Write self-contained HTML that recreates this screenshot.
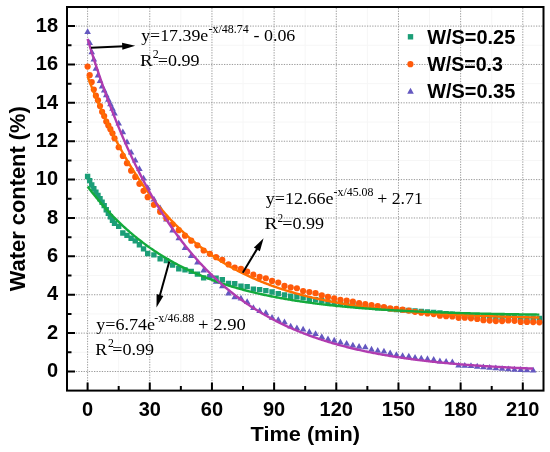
<!DOCTYPE html>
<html><head><meta charset="utf-8"><style>html,body{margin:0;padding:0;background:#fff;}svg{display:block;}</style></head>
<body><svg width="550" height="452" viewBox="0 0 550 452">
<rect width="550" height="452" fill="#fff"/>
<path d="M118.69 7V390.6M180.86 7V390.6M243.03 7V390.6M305.20 7V390.6M367.37 7V390.6M429.55 7V390.6M491.72 7V390.6M67 352.31H543.5M67 313.93H543.5M67 275.55H543.5M67 237.17H543.5M67 198.79H543.5M67 160.41H543.5M67 122.03H543.5M67 83.65H543.5M67 45.27H543.5" stroke="#f6f6f6" stroke-width="1" fill="none"/>
<path d="M87.60 8V389.6M149.77 8V389.6M211.94 8V389.6M274.12 8V389.6M336.29 8V389.6M398.46 8V389.6M460.63 8V389.6M522.80 8V389.6M68 371.50H542.5M68 333.12H542.5M68 294.74H542.5M68 256.36H542.5M68 217.98H542.5M68 179.60H542.5M68 141.22H542.5M68 102.84H542.5M68 64.46H542.5M68 26.08H542.5" stroke="#9a9a9a" stroke-width="1" stroke-dasharray="1.3 1.3" fill="none"/>
<path d="M84.90 173.83h5.4v5.4h-5.4zM86.97 177.90h5.4v5.4h-5.4zM89.04 182.30h5.4v5.4h-5.4zM91.12 185.88h5.4v5.4h-5.4zM93.19 189.40h5.4v5.4h-5.4zM95.26 192.77h5.4v5.4h-5.4zM97.33 196.08h5.4v5.4h-5.4zM99.41 199.54h5.4v5.4h-5.4zM101.48 202.95h5.4v5.4h-5.4zM103.55 206.98h5.4v5.4h-5.4zM105.62 210.57h5.4v5.4h-5.4zM107.70 214.10h5.4v5.4h-5.4zM109.77 217.49h5.4v5.4h-5.4zM111.84 220.70h5.4v5.4h-5.4zM115.99 223.64h5.4v5.4h-5.4zM120.13 230.25h5.4v5.4h-5.4zM124.28 232.66h5.4v5.4h-5.4zM128.42 235.50h5.4v5.4h-5.4zM132.57 238.18h5.4v5.4h-5.4zM136.71 242.07h5.4v5.4h-5.4zM140.85 246.19h5.4v5.4h-5.4zM145.00 250.77h5.4v5.4h-5.4zM151.22 252.21h5.4v5.4h-5.4zM157.43 256.07h5.4v5.4h-5.4zM163.65 257.95h5.4v5.4h-5.4zM169.87 262.47h5.4v5.4h-5.4zM176.09 266.01h5.4v5.4h-5.4zM182.30 267.22h5.4v5.4h-5.4zM188.52 268.63h5.4v5.4h-5.4zM194.74 271.39h5.4v5.4h-5.4zM200.95 275.13h5.4v5.4h-5.4zM207.17 274.10h5.4v5.4h-5.4zM213.39 275.61h5.4v5.4h-5.4zM219.61 276.98h5.4v5.4h-5.4zM225.82 280.71h5.4v5.4h-5.4zM232.04 281.06h5.4v5.4h-5.4zM238.26 283.59h5.4v5.4h-5.4zM244.47 283.90h5.4v5.4h-5.4zM250.69 286.41h5.4v5.4h-5.4zM256.91 286.91h5.4v5.4h-5.4zM263.13 287.89h5.4v5.4h-5.4zM269.34 289.36h5.4v5.4h-5.4zM275.56 290.95h5.4v5.4h-5.4zM281.78 292.26h5.4v5.4h-5.4zM288.00 293.51h5.4v5.4h-5.4zM294.21 294.12h5.4v5.4h-5.4zM300.43 295.05h5.4v5.4h-5.4zM306.65 296.50h5.4v5.4h-5.4zM312.86 297.12h5.4v5.4h-5.4zM319.08 298.08h5.4v5.4h-5.4zM325.30 299.38h5.4v5.4h-5.4zM331.52 300.44h5.4v5.4h-5.4zM337.73 301.12h5.4v5.4h-5.4zM343.95 301.77h5.4v5.4h-5.4zM350.17 302.38h5.4v5.4h-5.4zM356.38 303.00h5.4v5.4h-5.4zM362.60 303.70h5.4v5.4h-5.4zM368.82 304.36h5.4v5.4h-5.4zM375.04 304.99h5.4v5.4h-5.4zM381.25 305.60h5.4v5.4h-5.4zM387.47 306.18h5.4v5.4h-5.4zM393.69 306.73h5.4v5.4h-5.4zM399.90 307.26h5.4v5.4h-5.4zM406.12 307.77h5.4v5.4h-5.4zM412.34 308.25h5.4v5.4h-5.4zM418.56 308.72h5.4v5.4h-5.4zM424.77 309.17h5.4v5.4h-5.4zM430.99 309.73h5.4v5.4h-5.4zM437.21 310.35h5.4v5.4h-5.4zM443.43 310.94h5.4v5.4h-5.4zM449.64 311.53h5.4v5.4h-5.4zM455.86 312.10h5.4v5.4h-5.4zM462.08 312.58h5.4v5.4h-5.4zM468.29 313.02h5.4v5.4h-5.4zM474.51 313.44h5.4v5.4h-5.4zM480.73 313.85h5.4v5.4h-5.4zM486.95 314.26h5.4v5.4h-5.4zM493.16 314.53h5.4v5.4h-5.4zM499.38 314.72h5.4v5.4h-5.4zM505.60 314.91h5.4v5.4h-5.4zM511.81 315.09h5.4v5.4h-5.4zM518.03 315.26h5.4v5.4h-5.4zM524.25 315.43h5.4v5.4h-5.4zM530.47 315.59h5.4v5.4h-5.4zM536.68 315.75h5.4v5.4h-5.4z" fill="#1b9e77"/>
<path d="M87.60 28.16L90.90 33.96L84.30 33.96zM89.67 39.16L92.97 44.96L86.37 44.96zM91.74 48.49L95.04 54.29L88.44 54.29zM93.82 55.76L97.12 61.56L90.52 61.56zM95.89 65.01L99.19 70.81L92.59 70.81zM97.96 71.64L101.26 77.44L94.66 77.44zM100.03 77.18L103.33 82.98L96.73 82.98zM102.11 82.59L105.41 88.39L98.81 88.39zM104.18 86.74L107.48 92.54L100.88 92.54zM106.25 91.34L109.55 97.14L102.95 97.14zM108.32 96.01L111.62 101.81L105.02 101.81zM110.40 100.57L113.70 106.37L107.10 106.37zM112.47 105.02L115.77 110.82L109.17 110.82zM114.54 109.74L117.84 115.54L111.24 115.54zM118.69 119.63L121.99 125.43L115.39 125.43zM122.83 128.54L126.13 134.34L119.53 134.34zM126.98 138.39L130.28 144.19L123.68 144.19zM131.12 148.81L134.42 154.61L127.82 154.61zM135.27 156.77L138.57 162.57L131.97 162.57zM139.41 165.14L142.71 170.94L136.11 170.94zM143.55 174.70L146.85 180.50L140.25 180.50zM147.70 184.14L151.00 189.94L144.40 189.94zM153.92 195.71L157.22 201.51L150.62 201.51zM160.13 204.50L163.43 210.30L156.83 210.30zM166.35 215.75L169.65 221.55L163.05 221.55zM172.57 226.61L175.87 232.41L169.27 232.41zM178.79 234.44L182.09 240.24L175.49 240.24zM185.00 244.24L188.30 250.04L181.70 250.04zM191.22 252.22L194.52 258.02L187.92 258.02zM197.44 258.79L200.74 264.59L194.14 264.59zM203.65 266.65L206.95 272.45L200.35 272.45zM209.87 272.01L213.17 277.81L206.57 277.81zM216.09 277.94L219.39 283.74L212.79 283.74zM222.31 282.38L225.61 288.18L219.01 288.18zM228.52 289.74L231.82 295.54L225.22 295.54zM234.74 293.33L238.04 299.13L231.44 299.13zM240.96 294.71L244.26 300.51L237.66 300.51zM247.17 298.31L250.47 304.11L243.87 304.11zM253.39 304.14L256.69 309.94L250.09 309.94zM259.61 307.23L262.91 313.03L256.31 313.03zM265.83 309.32L269.13 315.12L262.53 315.12zM272.04 313.89L275.34 319.69L268.74 319.69zM278.26 316.13L281.56 321.93L274.96 321.93zM284.48 318.38L287.78 324.18L281.18 324.18zM290.70 322.76L294.00 328.56L287.40 328.56zM296.91 324.46L300.21 330.26L293.61 330.26zM303.13 325.82L306.43 331.62L299.83 331.62zM309.35 328.37L312.65 334.17L306.05 334.17zM315.56 330.20L318.86 336.00L312.26 336.00zM321.78 333.25L325.08 339.05L318.48 339.05zM328.00 335.40L331.30 341.20L324.70 341.20zM334.22 336.86L337.52 342.66L330.92 342.66zM340.43 338.60L343.73 344.40L337.13 344.40zM346.65 340.03L349.95 345.83L343.35 345.83zM352.87 341.76L356.17 347.56L349.57 347.56zM359.08 343.01L362.38 348.81L355.78 348.81zM365.30 343.40L368.60 349.20L362.00 349.20zM371.52 345.83L374.82 351.63L368.22 351.63zM377.74 347.03L381.04 352.83L374.44 352.83zM383.95 347.77L387.25 353.57L380.65 353.57zM390.17 349.41L393.47 355.21L386.87 355.21zM396.39 351.17L399.69 356.97L393.09 356.97zM402.60 352.30L405.90 358.10L399.30 358.10zM408.82 352.80L412.12 358.60L405.52 358.60zM415.04 354.01L418.34 359.81L411.74 359.81zM421.26 354.79L424.56 360.59L417.96 360.59zM427.47 355.33L430.77 361.13L424.17 361.13zM433.69 356.02L436.99 361.82L430.39 361.82zM439.91 357.62L443.21 363.42L436.61 363.42zM446.13 358.04L449.43 363.84L442.83 363.84zM452.34 358.42L455.64 364.22L449.04 364.22zM458.56 361.65L461.86 367.45L455.26 367.45zM464.78 361.96L468.08 367.76L461.48 367.76zM470.99 362.24L474.29 368.04L467.69 368.04zM477.21 362.86L480.51 368.66L473.91 368.66zM483.43 363.46L486.73 369.26L480.13 369.26zM489.65 364.03L492.95 369.83L486.35 369.83zM495.86 364.53L499.16 370.33L492.56 370.33zM502.08 365.00L505.38 370.80L498.78 370.80zM508.30 365.44L511.60 371.24L505.00 371.24zM514.51 365.83L517.81 371.63L511.21 371.63zM520.73 366.12L524.03 371.92L517.43 371.92zM526.95 366.39L530.25 372.19L523.65 372.19zM533.17 366.65L536.47 372.45L529.87 372.45z" fill="#6458c0"/>
<g fill="#ff5a0a"><circle cx="87.60" cy="66.57" r="3.1"/><circle cx="89.67" cy="75.16" r="3.1"/><circle cx="91.74" cy="82.10" r="3.1"/><circle cx="93.82" cy="89.50" r="3.1"/><circle cx="95.89" cy="95.64" r="3.1"/><circle cx="97.96" cy="100.33" r="3.1"/><circle cx="100.03" cy="106.06" r="3.1"/><circle cx="102.11" cy="111.87" r="3.1"/><circle cx="104.18" cy="116.05" r="3.1"/><circle cx="106.25" cy="121.48" r="3.1"/><circle cx="108.32" cy="125.46" r="3.1"/><circle cx="110.40" cy="129.15" r="3.1"/><circle cx="112.47" cy="133.33" r="3.1"/><circle cx="114.54" cy="138.37" r="3.1"/><circle cx="118.69" cy="147.23" r="3.1"/><circle cx="122.83" cy="155.94" r="3.1"/><circle cx="126.98" cy="163.17" r="3.1"/><circle cx="131.12" cy="170.67" r="3.1"/><circle cx="135.27" cy="176.90" r="3.1"/><circle cx="139.41" cy="183.80" r="3.1"/><circle cx="143.55" cy="190.82" r="3.1"/><circle cx="147.70" cy="197.19" r="3.1"/><circle cx="153.92" cy="204.83" r="3.1"/><circle cx="160.13" cy="211.80" r="3.1"/><circle cx="166.35" cy="218.28" r="3.1"/><circle cx="172.57" cy="224.38" r="3.1"/><circle cx="178.79" cy="230.22" r="3.1"/><circle cx="185.00" cy="235.65" r="3.1"/><circle cx="191.22" cy="240.70" r="3.1"/><circle cx="197.44" cy="245.29" r="3.1"/><circle cx="203.65" cy="250.50" r="3.1"/><circle cx="209.87" cy="253.86" r="3.1"/><circle cx="216.09" cy="257.13" r="3.1"/><circle cx="222.31" cy="259.93" r="3.1"/><circle cx="228.52" cy="264.40" r="3.1"/><circle cx="234.74" cy="267.48" r="3.1"/><circle cx="240.96" cy="268.79" r="3.1"/><circle cx="247.17" cy="271.63" r="3.1"/><circle cx="253.39" cy="274.66" r="3.1"/><circle cx="259.61" cy="276.93" r="3.1"/><circle cx="265.83" cy="278.26" r="3.1"/><circle cx="272.04" cy="280.96" r="3.1"/><circle cx="278.26" cy="282.56" r="3.1"/><circle cx="284.48" cy="285.93" r="3.1"/><circle cx="290.70" cy="287.45" r="3.1"/><circle cx="296.91" cy="288.27" r="3.1"/><circle cx="303.13" cy="291.09" r="3.1"/><circle cx="309.35" cy="292.07" r="3.1"/><circle cx="315.56" cy="293.14" r="3.1"/><circle cx="321.78" cy="295.46" r="3.1"/><circle cx="328.00" cy="296.93" r="3.1"/><circle cx="334.22" cy="298.32" r="3.1"/><circle cx="340.43" cy="299.82" r="3.1"/><circle cx="346.65" cy="300.48" r="3.1"/><circle cx="352.87" cy="301.65" r="3.1"/><circle cx="359.08" cy="303.14" r="3.1"/><circle cx="365.30" cy="303.99" r="3.1"/><circle cx="371.52" cy="305.18" r="3.1"/><circle cx="377.74" cy="306.12" r="3.1"/><circle cx="383.95" cy="307.01" r="3.1"/><circle cx="390.17" cy="308.43" r="3.1"/><circle cx="396.39" cy="308.85" r="3.1"/><circle cx="402.60" cy="309.62" r="3.1"/><circle cx="408.82" cy="310.54" r="3.1"/><circle cx="415.04" cy="311.81" r="3.1"/><circle cx="421.26" cy="312.66" r="3.1"/><circle cx="427.47" cy="313.49" r="3.1"/><circle cx="433.69" cy="314.09" r="3.1"/><circle cx="439.91" cy="315.63" r="3.1"/><circle cx="446.13" cy="316.18" r="3.1"/><circle cx="452.34" cy="316.52" r="3.1"/><circle cx="458.56" cy="317.79" r="3.1"/><circle cx="464.78" cy="317.70" r="3.1"/><circle cx="470.99" cy="318.36" r="3.1"/><circle cx="477.21" cy="319.00" r="3.1"/><circle cx="483.43" cy="320.21" r="3.1"/><circle cx="489.65" cy="320.62" r="3.1"/><circle cx="495.86" cy="321.03" r="3.1"/><circle cx="502.08" cy="321.03" r="3.1"/><circle cx="508.30" cy="320.45" r="3.1"/><circle cx="514.51" cy="320.82" r="3.1"/><circle cx="520.73" cy="321.94" r="3.1"/><circle cx="526.95" cy="321.90" r="3.1"/><circle cx="533.17" cy="322.04" r="3.1"/><circle cx="539.38" cy="322.36" r="3.1"/></g>
<path d="M87.60 76.55 L88.64 79.23 L89.67 81.88 L90.71 84.50 L91.74 87.09 L92.78 89.66 L93.82 92.19 L94.85 94.70 L95.89 97.18 L96.93 99.63 L97.96 102.06 L99.00 104.45 L100.03 106.83 L101.07 109.17 L102.11 111.49 L103.14 113.79 L104.18 116.05 L105.22 118.30 L106.25 120.52 L107.29 122.71 L108.32 124.88 L109.36 127.03 L110.40 129.15 L111.43 131.25 L112.47 133.33 L113.50 135.38 L114.54 137.41 L115.58 139.42 L116.61 141.41 L117.65 143.37 L118.69 145.31 L119.72 147.24 L120.76 149.14 L121.79 151.01 L122.83 152.87 L123.87 154.71 L124.90 156.53 L125.94 158.33 L126.98 160.10 L128.01 161.86 L129.05 163.60 L130.08 165.32 L131.12 167.02 L132.16 168.70 L133.19 170.37 L134.23 172.01 L135.27 173.64 L136.30 175.25 L137.34 176.84 L138.37 178.41 L139.41 179.97 L140.45 181.51 L141.48 183.03 L142.52 184.53 L143.55 186.02 L144.59 187.49 L145.63 188.95 L146.66 190.39 L147.70 191.81 L148.74 193.22 L149.77 194.62 L150.81 195.99 L151.84 197.35 L152.88 198.70 L153.92 200.03 L154.95 201.35 L155.99 202.66 L157.03 203.94 L158.06 205.22 L159.10 206.48 L160.13 207.73 L161.17 208.96 L162.21 210.18 L163.24 211.38 L164.28 212.58 L165.31 213.76 L166.35 214.92 L167.39 216.07 L168.42 217.22 L169.46 218.34 L170.50 219.46 L171.53 220.56 L172.57 221.65 L173.60 222.73 L174.64 223.80 L175.68 224.86 L176.71 225.90 L177.75 226.93 L178.79 227.95 L179.82 228.96 L180.86 229.96 L181.89 230.95 L182.93 231.93 L183.97 232.89 L185.00 233.85 L186.04 234.79 L187.08 235.73 L188.11 236.65 L189.15 237.56 L190.18 238.47 L191.22 239.36 L192.26 240.25 L193.29 241.12 L194.33 241.98 L195.36 242.84 L196.40 243.68 L197.44 244.52 L198.47 245.35 L199.51 246.17 L200.55 246.97 L201.58 247.77 L202.62 248.57 L203.65 249.35 L204.69 250.12 L205.73 250.89 L206.76 251.64 L207.80 252.39 L208.84 253.13 L209.87 253.86 L210.91 254.59 L211.94 255.30 L212.98 256.01 L214.02 256.71 L215.05 257.40 L216.09 258.09 L217.12 258.77 L218.16 259.44 L219.20 260.10 L220.23 260.75 L221.27 261.40 L222.31 262.04 L223.34 262.68 L224.38 263.30 L225.41 263.92 L226.45 264.54 L227.49 265.14 L228.52 265.74 L229.56 266.33 L230.60 266.92 L231.63 267.50 L232.67 268.07 L233.70 268.64 L234.74 269.20 L235.78 269.76 L236.81 270.31 L237.85 270.85 L238.89 271.38 L239.92 271.92 L240.96 272.44 L241.99 272.96 L243.03 273.47 L244.07 273.98 L245.10 274.48 L246.14 274.98 L247.17 275.47 L248.21 275.96 L249.25 276.44 L250.28 276.91 L251.32 277.38 L252.36 277.84 L253.39 278.30 L254.43 278.76 L255.46 279.21 L256.50 279.65 L257.54 280.09 L258.57 280.53 L259.61 280.96 L260.65 281.38 L261.68 281.80 L262.72 282.22 L263.75 282.63 L264.79 283.04 L265.83 283.44 L266.86 283.84 L267.90 284.23 L268.94 284.62 L269.97 285.00 L271.01 285.38 L272.04 285.76 L273.08 286.13 L274.12 286.50 L275.15 286.86 L276.19 287.22 L277.22 287.58 L278.26 287.93 L279.30 288.28 L280.33 288.62 L281.37 288.96 L282.41 289.30 L283.44 289.63 L284.48 289.96 L285.51 290.29 L286.55 290.61 L287.59 290.93 L288.62 291.24 L289.66 291.56 L290.70 291.86 L291.73 292.17 L292.77 292.47 L293.80 292.77 L294.84 293.06 L295.88 293.36 L296.91 293.64 L297.95 293.93 L298.98 294.21 L300.02 294.49 L301.06 294.77 L302.09 295.04 L303.13 295.31 L304.17 295.57 L305.20 295.84 L306.24 296.10 L307.27 296.36 L308.31 296.61 L309.35 296.87 L310.38 297.11 L311.42 297.36 L312.46 297.61 L313.49 297.85 L314.53 298.09 L315.56 298.32 L316.60 298.56 L317.64 298.79 L318.67 299.01 L319.71 299.24 L320.75 299.46 L321.78 299.69 L322.82 299.90 L323.85 300.12 L324.89 300.33 L325.93 300.54 L326.96 300.75 L328.00 300.96 L329.03 301.17 L330.07 301.37 L331.11 301.57 L332.14 301.76 L333.18 301.96 L334.22 302.15 L335.25 302.35 L336.29 302.53 L337.32 302.72 L338.36 302.91 L339.40 303.09 L340.43 303.27 L341.47 303.45 L342.51 303.63 L343.54 303.80 L344.58 303.97 L345.61 304.15 L346.65 304.31 L347.69 304.48 L348.72 304.65 L349.76 304.81 L350.79 304.97 L351.83 305.13 L352.87 305.29 L353.90 305.45 L354.94 305.60 L355.98 305.76 L357.01 305.91 L358.05 306.06 L359.08 306.21 L360.12 306.35 L361.16 306.50 L362.19 306.64 L363.23 306.78 L364.27 306.92 L365.30 307.06 L366.34 307.20 L367.37 307.33 L368.41 307.47 L369.45 307.60 L370.48 307.73 L371.52 307.86 L372.55 307.99 L373.59 308.12 L374.63 308.24 L375.66 308.37 L376.70 308.49 L377.74 308.61 L378.77 308.73 L379.81 308.85 L380.84 308.97 L381.88 309.08 L382.92 309.20 L383.95 309.31 L384.99 309.42 L386.03 309.54 L387.06 309.65 L388.10 309.75 L389.13 309.86 L390.17 309.97 L391.21 310.07 L392.24 310.18 L393.28 310.28 L394.32 310.38 L395.35 310.48 L396.39 310.58 L397.42 310.68 L398.46 310.78 L399.50 310.87 L400.53 310.97 L401.57 311.06 L402.60 311.16 L403.64 311.25 L404.68 311.34 L405.71 311.43 L406.75 311.52 L407.79 311.61 L408.82 311.69 L409.86 311.78 L410.89 311.86 L411.93 311.95 L412.97 312.03 L414.00 312.11 L415.04 312.19 L416.08 312.28 L417.11 312.35 L418.15 312.43 L419.18 312.51 L420.22 312.59 L421.26 312.66 L422.29 312.74 L423.33 312.81 L424.37 312.89 L425.40 312.96 L426.44 313.03 L427.47 313.10 L428.51 313.17 L429.55 313.24 L430.58 313.31 L431.62 313.38 L432.65 313.45 L433.69 313.52 L434.73 313.58 L435.76 313.65 L436.80 313.71 L437.84 313.78 L438.87 313.84 L439.91 313.90 L440.94 313.96 L441.98 314.02 L443.02 314.08 L444.05 314.14 L445.09 314.20 L446.13 314.26 L447.16 314.32 L448.20 314.38 L449.23 314.43 L450.27 314.49 L451.31 314.54 L452.34 314.60 L453.38 314.65 L454.41 314.71 L455.45 314.76 L456.49 314.81 L457.52 314.86 L458.56 314.91 L459.60 314.96 L460.63 315.01 L461.67 315.06 L462.70 315.11 L463.74 315.16 L464.78 315.21 L465.81 315.26 L466.85 315.30 L467.89 315.35 L468.92 315.39 L469.96 315.44 L470.99 315.48 L472.03 315.53 L473.07 315.57 L474.10 315.62 L475.14 315.66 L476.17 315.70 L477.21 315.74 L478.25 315.78 L479.28 315.82 L480.32 315.87 L481.36 315.91 L482.39 315.94 L483.43 315.98 L484.46 316.02 L485.50 316.06 L486.54 316.10 L487.57 316.14 L488.61 316.17 L489.65 316.21 L490.68 316.25 L491.72 316.28 L492.75 316.32 L493.79 316.35 L494.83 316.39 L495.86 316.42 L496.90 316.46 L497.94 316.49 L498.97 316.52 L500.01 316.55 L501.04 316.59 L502.08 316.62 L503.12 316.65 L504.15 316.68 L505.19 316.71 L506.22 316.74 L507.26 316.77 L508.30 316.80 L509.33 316.83 L510.37 316.86 L511.41 316.89 L512.44 316.92 L513.48 316.95 L514.51 316.98 L515.55 317.01 L516.59 317.03 L517.62 317.06 L518.66 317.09 L519.70 317.11 L520.73 317.14 L521.77 317.17 L522.80 317.19 L523.84 317.22 L524.88 317.24 L525.91 317.27 L526.95 317.29 L527.99 317.32 L529.02 317.34 L530.06 317.36 L531.09 317.39 L532.13 317.41 L533.17 317.43 L534.20 317.46 L535.24 317.48 L536.27 317.50 L537.31 317.52 L538.35 317.54 L539.38 317.57" stroke="#ff6e00" stroke-width="2.4" fill="none" stroke-linejoin="round"/>
<path d="M87.60 186.51 L88.64 187.88 L89.67 189.24 L90.71 190.58 L91.74 191.91 L92.78 193.23 L93.82 194.53 L94.85 195.81 L95.89 197.09 L96.93 198.35 L97.96 199.59 L99.00 200.83 L100.03 202.05 L101.07 203.25 L102.11 204.45 L103.14 205.63 L104.18 206.80 L105.22 207.96 L106.25 209.10 L107.29 210.23 L108.32 211.35 L109.36 212.46 L110.40 213.56 L111.43 214.64 L112.47 215.72 L113.50 216.78 L114.54 217.83 L115.58 218.87 L116.61 219.90 L117.65 220.92 L118.69 221.93 L119.72 222.92 L120.76 223.91 L121.79 224.88 L122.83 225.85 L123.87 226.80 L124.90 227.75 L125.94 228.68 L126.98 229.61 L128.01 230.52 L129.05 231.43 L130.08 232.32 L131.12 233.21 L132.16 234.09 L133.19 234.95 L134.23 235.81 L135.27 236.66 L136.30 237.50 L137.34 238.33 L138.37 239.15 L139.41 239.97 L140.45 240.77 L141.48 241.57 L142.52 242.36 L143.55 243.14 L144.59 243.91 L145.63 244.67 L146.66 245.43 L147.70 246.17 L148.74 246.91 L149.77 247.64 L150.81 248.37 L151.84 249.08 L152.88 249.79 L153.92 250.49 L154.95 251.19 L155.99 251.87 L157.03 252.55 L158.06 253.22 L159.10 253.89 L160.13 254.54 L161.17 255.19 L162.21 255.84 L163.24 256.47 L164.28 257.10 L165.31 257.73 L166.35 258.34 L167.39 258.95 L168.42 259.56 L169.46 260.15 L170.50 260.75 L171.53 261.33 L172.57 261.91 L173.60 262.48 L174.64 263.05 L175.68 263.61 L176.71 264.16 L177.75 264.71 L178.79 265.25 L179.82 265.79 L180.86 266.32 L181.89 266.85 L182.93 267.37 L183.97 267.88 L185.00 268.39 L186.04 268.89 L187.08 269.39 L188.11 269.88 L189.15 270.37 L190.18 270.85 L191.22 271.33 L192.26 271.80 L193.29 272.27 L194.33 272.73 L195.36 273.19 L196.40 273.64 L197.44 274.09 L198.47 274.53 L199.51 274.97 L200.55 275.41 L201.58 275.83 L202.62 276.26 L203.65 276.68 L204.69 277.09 L205.73 277.51 L206.76 277.91 L207.80 278.31 L208.84 278.71 L209.87 279.11 L210.91 279.50 L211.94 279.88 L212.98 280.26 L214.02 280.64 L215.05 281.02 L216.09 281.38 L217.12 281.75 L218.16 282.11 L219.20 282.47 L220.23 282.82 L221.27 283.17 L222.31 283.52 L223.34 283.86 L224.38 284.20 L225.41 284.54 L226.45 284.87 L227.49 285.20 L228.52 285.53 L229.56 285.85 L230.60 286.17 L231.63 286.48 L232.67 286.79 L233.70 287.10 L234.74 287.40 L235.78 287.71 L236.81 288.01 L237.85 288.30 L238.89 288.59 L239.92 288.88 L240.96 289.17 L241.99 289.45 L243.03 289.73 L244.07 290.01 L245.10 290.28 L246.14 290.55 L247.17 290.82 L248.21 291.09 L249.25 291.35 L250.28 291.61 L251.32 291.87 L252.36 292.12 L253.39 292.37 L254.43 292.62 L255.46 292.87 L256.50 293.11 L257.54 293.35 L258.57 293.59 L259.61 293.83 L260.65 294.06 L261.68 294.29 L262.72 294.52 L263.75 294.75 L264.79 294.97 L265.83 295.19 L266.86 295.41 L267.90 295.63 L268.94 295.84 L269.97 296.06 L271.01 296.27 L272.04 296.47 L273.08 296.68 L274.12 296.88 L275.15 297.08 L276.19 297.28 L277.22 297.48 L278.26 297.68 L279.30 297.87 L280.33 298.06 L281.37 298.25 L282.41 298.43 L283.44 298.62 L284.48 298.80 L285.51 298.98 L286.55 299.16 L287.59 299.34 L288.62 299.51 L289.66 299.69 L290.70 299.86 L291.73 300.03 L292.77 300.20 L293.80 300.36 L294.84 300.53 L295.88 300.69 L296.91 300.85 L297.95 301.01 L298.98 301.17 L300.02 301.32 L301.06 301.48 L302.09 301.63 L303.13 301.78 L304.17 301.93 L305.20 302.08 L306.24 302.22 L307.27 302.37 L308.31 302.51 L309.35 302.65 L310.38 302.79 L311.42 302.93 L312.46 303.07 L313.49 303.20 L314.53 303.34 L315.56 303.47 L316.60 303.60 L317.64 303.73 L318.67 303.86 L319.71 303.99 L320.75 304.11 L321.78 304.24 L322.82 304.36 L323.85 304.48 L324.89 304.60 L325.93 304.72 L326.96 304.84 L328.00 304.96 L329.03 305.07 L330.07 305.19 L331.11 305.30 L332.14 305.41 L333.18 305.52 L334.22 305.63 L335.25 305.74 L336.29 305.85 L337.32 305.95 L338.36 306.06 L339.40 306.16 L340.43 306.27 L341.47 306.37 L342.51 306.47 L343.54 306.57 L344.58 306.67 L345.61 306.76 L346.65 306.86 L347.69 306.95 L348.72 307.05 L349.76 307.14 L350.79 307.23 L351.83 307.33 L352.87 307.42 L353.90 307.51 L354.94 307.59 L355.98 307.68 L357.01 307.77 L358.05 307.85 L359.08 307.94 L360.12 308.02 L361.16 308.11 L362.19 308.19 L363.23 308.27 L364.27 308.35 L365.30 308.43 L366.34 308.51 L367.37 308.59 L368.41 308.66 L369.45 308.74 L370.48 308.81 L371.52 308.89 L372.55 308.96 L373.59 309.04 L374.63 309.11 L375.66 309.18 L376.70 309.25 L377.74 309.32 L378.77 309.39 L379.81 309.46 L380.84 309.53 L381.88 309.59 L382.92 309.66 L383.95 309.73 L384.99 309.79 L386.03 309.85 L387.06 309.92 L388.10 309.98 L389.13 310.04 L390.17 310.11 L391.21 310.17 L392.24 310.23 L393.28 310.29 L394.32 310.35 L395.35 310.40 L396.39 310.46 L397.42 310.52 L398.46 310.57 L399.50 310.63 L400.53 310.69 L401.57 310.74 L402.60 310.80 L403.64 310.85 L404.68 310.90 L405.71 310.95 L406.75 311.01 L407.79 311.06 L408.82 311.11 L409.86 311.16 L410.89 311.21 L411.93 311.26 L412.97 311.31 L414.00 311.35 L415.04 311.40 L416.08 311.45 L417.11 311.50 L418.15 311.54 L419.18 311.59 L420.22 311.63 L421.26 311.68 L422.29 311.72 L423.33 311.77 L424.37 311.81 L425.40 311.85 L426.44 311.89 L427.47 311.94 L428.51 311.98 L429.55 312.02 L430.58 312.06 L431.62 312.10 L432.65 312.14 L433.69 312.18 L434.73 312.22 L435.76 312.26 L436.80 312.29 L437.84 312.33 L438.87 312.37 L439.91 312.41 L440.94 312.44 L441.98 312.48 L443.02 312.51 L444.05 312.55 L445.09 312.59 L446.13 312.62 L447.16 312.65 L448.20 312.69 L449.23 312.72 L450.27 312.75 L451.31 312.79 L452.34 312.82 L453.38 312.85 L454.41 312.88 L455.45 312.92 L456.49 312.95 L457.52 312.98 L458.56 313.01 L459.60 313.04 L460.63 313.07 L461.67 313.10 L462.70 313.13 L463.74 313.16 L464.78 313.18 L465.81 313.21 L466.85 313.24 L467.89 313.27 L468.92 313.30 L469.96 313.32 L470.99 313.35 L472.03 313.38 L473.07 313.40 L474.10 313.43 L475.14 313.45 L476.17 313.48 L477.21 313.50 L478.25 313.53 L479.28 313.55 L480.32 313.58 L481.36 313.60 L482.39 313.63 L483.43 313.65 L484.46 313.67 L485.50 313.70 L486.54 313.72 L487.57 313.74 L488.61 313.76 L489.65 313.79 L490.68 313.81 L491.72 313.83 L492.75 313.85 L493.79 313.87 L494.83 313.89 L495.86 313.91 L496.90 313.93 L497.94 313.95 L498.97 313.97 L500.01 313.99 L501.04 314.01 L502.08 314.03 L503.12 314.05 L504.15 314.07 L505.19 314.09 L506.22 314.11 L507.26 314.13 L508.30 314.15 L509.33 314.16 L510.37 314.18 L511.41 314.20 L512.44 314.22 L513.48 314.23 L514.51 314.25 L515.55 314.27 L516.59 314.29 L517.62 314.30 L518.66 314.32 L519.70 314.33 L520.73 314.35 L521.77 314.37 L522.80 314.38 L523.84 314.40 L524.88 314.41 L525.91 314.43 L526.95 314.44 L527.99 314.46 L529.02 314.47 L530.06 314.49 L531.09 314.50 L532.13 314.52 L533.17 314.53 L534.20 314.54 L535.24 314.56 L536.27 314.57 L537.31 314.59 L538.35 314.60 L539.38 314.61" stroke="#14aa3c" stroke-width="2.4" fill="none" stroke-linejoin="round"/>
<path d="M87.60 38.94 L88.64 42.34 L89.67 45.71 L90.71 49.05 L91.74 52.35 L92.78 55.62 L93.82 58.86 L94.85 62.06 L95.89 65.23 L96.93 68.37 L97.96 71.47 L99.00 74.55 L100.03 77.59 L101.07 80.60 L102.11 83.58 L103.14 86.53 L104.18 89.45 L105.22 92.34 L106.25 95.20 L107.29 98.04 L108.32 100.84 L109.36 103.61 L110.40 106.36 L111.43 109.08 L112.47 111.77 L113.50 114.43 L114.54 117.06 L115.58 119.67 L116.61 122.25 L117.65 124.81 L118.69 127.34 L119.72 129.84 L120.76 132.32 L121.79 134.77 L122.83 137.20 L123.87 139.61 L124.90 141.98 L125.94 144.34 L126.98 146.67 L128.01 148.97 L129.05 151.26 L130.08 153.52 L131.12 155.75 L132.16 157.97 L133.19 160.16 L134.23 162.33 L135.27 164.47 L136.30 166.60 L137.34 168.70 L138.37 170.78 L139.41 172.84 L140.45 174.88 L141.48 176.90 L142.52 178.90 L143.55 180.88 L144.59 182.83 L145.63 184.77 L146.66 186.69 L147.70 188.59 L148.74 190.46 L149.77 192.32 L150.81 194.16 L151.84 195.99 L152.88 197.79 L153.92 199.57 L154.95 201.34 L155.99 203.09 L157.03 204.82 L158.06 206.53 L159.10 208.23 L160.13 209.91 L161.17 211.57 L162.21 213.21 L163.24 214.84 L164.28 216.45 L165.31 218.04 L166.35 219.62 L167.39 221.18 L168.42 222.73 L169.46 224.26 L170.50 225.77 L171.53 227.27 L172.57 228.76 L173.60 230.22 L174.64 231.68 L175.68 233.12 L176.71 234.54 L177.75 235.95 L178.79 237.35 L179.82 238.73 L180.86 240.09 L181.89 241.45 L182.93 242.79 L183.97 244.11 L185.00 245.42 L186.04 246.72 L187.08 248.01 L188.11 249.28 L189.15 250.54 L190.18 251.78 L191.22 253.02 L192.26 254.24 L193.29 255.45 L194.33 256.64 L195.36 257.83 L196.40 259.00 L197.44 260.16 L198.47 261.31 L199.51 262.44 L200.55 263.57 L201.58 264.68 L202.62 265.78 L203.65 266.87 L204.69 267.95 L205.73 269.02 L206.76 270.08 L207.80 271.13 L208.84 272.16 L209.87 273.19 L210.91 274.20 L211.94 275.21 L212.98 276.20 L214.02 277.19 L215.05 278.16 L216.09 279.13 L217.12 280.08 L218.16 281.03 L219.20 281.96 L220.23 282.89 L221.27 283.80 L222.31 284.71 L223.34 285.61 L224.38 286.50 L225.41 287.37 L226.45 288.24 L227.49 289.11 L228.52 289.96 L229.56 290.80 L230.60 291.64 L231.63 292.47 L232.67 293.28 L233.70 294.09 L234.74 294.90 L235.78 295.69 L236.81 296.47 L237.85 297.25 L238.89 298.02 L239.92 298.78 L240.96 299.54 L241.99 300.28 L243.03 301.02 L244.07 301.75 L245.10 302.48 L246.14 303.19 L247.17 303.90 L248.21 304.60 L249.25 305.30 L250.28 305.99 L251.32 306.67 L252.36 307.34 L253.39 308.01 L254.43 308.67 L255.46 309.32 L256.50 309.96 L257.54 310.60 L258.57 311.24 L259.61 311.86 L260.65 312.49 L261.68 313.10 L262.72 313.71 L263.75 314.31 L264.79 314.90 L265.83 315.49 L266.86 316.08 L267.90 316.65 L268.94 317.23 L269.97 317.79 L271.01 318.35 L272.04 318.91 L273.08 319.45 L274.12 320.00 L275.15 320.53 L276.19 321.07 L277.22 321.59 L278.26 322.11 L279.30 322.63 L280.33 323.14 L281.37 323.65 L282.41 324.15 L283.44 324.64 L284.48 325.13 L285.51 325.62 L286.55 326.10 L287.59 326.57 L288.62 327.04 L289.66 327.51 L290.70 327.97 L291.73 328.42 L292.77 328.87 L293.80 329.32 L294.84 329.76 L295.88 330.20 L296.91 330.63 L297.95 331.06 L298.98 331.49 L300.02 331.91 L301.06 332.32 L302.09 332.74 L303.13 333.14 L304.17 333.55 L305.20 333.95 L306.24 334.34 L307.27 334.73 L308.31 335.12 L309.35 335.50 L310.38 335.88 L311.42 336.26 L312.46 336.63 L313.49 337.00 L314.53 337.36 L315.56 337.72 L316.60 338.08 L317.64 338.43 L318.67 338.78 L319.71 339.12 L320.75 339.47 L321.78 339.80 L322.82 340.14 L323.85 340.47 L324.89 340.80 L325.93 341.12 L326.96 341.45 L328.00 341.77 L329.03 342.08 L330.07 342.39 L331.11 342.70 L332.14 343.01 L333.18 343.31 L334.22 343.61 L335.25 343.91 L336.29 344.20 L337.32 344.49 L338.36 344.78 L339.40 345.06 L340.43 345.34 L341.47 345.62 L342.51 345.90 L343.54 346.17 L344.58 346.44 L345.61 346.71 L346.65 346.97 L347.69 347.23 L348.72 347.49 L349.76 347.75 L350.79 348.01 L351.83 348.26 L352.87 348.51 L353.90 348.75 L354.94 349.00 L355.98 349.24 L357.01 349.48 L358.05 349.71 L359.08 349.95 L360.12 350.18 L361.16 350.41 L362.19 350.64 L363.23 350.86 L364.27 351.08 L365.30 351.30 L366.34 351.52 L367.37 351.74 L368.41 351.95 L369.45 352.16 L370.48 352.37 L371.52 352.58 L372.55 352.78 L373.59 352.98 L374.63 353.19 L375.66 353.38 L376.70 353.58 L377.74 353.78 L378.77 353.97 L379.81 354.16 L380.84 354.35 L381.88 354.53 L382.92 354.72 L383.95 354.90 L384.99 355.08 L386.03 355.26 L387.06 355.44 L388.10 355.62 L389.13 355.79 L390.17 355.96 L391.21 356.13 L392.24 356.30 L393.28 356.47 L394.32 356.63 L395.35 356.80 L396.39 356.96 L397.42 357.12 L398.46 357.28 L399.50 357.43 L400.53 357.59 L401.57 357.74 L402.60 357.89 L403.64 358.05 L404.68 358.19 L405.71 358.34 L406.75 358.49 L407.79 358.63 L408.82 358.78 L409.86 358.92 L410.89 359.06 L411.93 359.20 L412.97 359.33 L414.00 359.47 L415.04 359.60 L416.08 359.74 L417.11 359.87 L418.15 360.00 L419.18 360.13 L420.22 360.26 L421.26 360.38 L422.29 360.51 L423.33 360.63 L424.37 360.75 L425.40 360.88 L426.44 361.00 L427.47 361.12 L428.51 361.23 L429.55 361.35 L430.58 361.46 L431.62 361.58 L432.65 361.69 L433.69 361.80 L434.73 361.91 L435.76 362.02 L436.80 362.13 L437.84 362.24 L438.87 362.35 L439.91 362.45 L440.94 362.56 L441.98 362.66 L443.02 362.76 L444.05 362.86 L445.09 362.96 L446.13 363.06 L447.16 363.16 L448.20 363.26 L449.23 363.35 L450.27 363.45 L451.31 363.54 L452.34 363.63 L453.38 363.72 L454.41 363.82 L455.45 363.91 L456.49 364.00 L457.52 364.08 L458.56 364.17 L459.60 364.26 L460.63 364.34 L461.67 364.43 L462.70 364.51 L463.74 364.60 L464.78 364.68 L465.81 364.76 L466.85 364.84 L467.89 364.92 L468.92 365.00 L469.96 365.08 L470.99 365.15 L472.03 365.23 L473.07 365.31 L474.10 365.38 L475.14 365.45 L476.17 365.53 L477.21 365.60 L478.25 365.67 L479.28 365.74 L480.32 365.81 L481.36 365.88 L482.39 365.95 L483.43 366.02 L484.46 366.09 L485.50 366.16 L486.54 366.22 L487.57 366.29 L488.61 366.35 L489.65 366.42 L490.68 366.48 L491.72 366.54 L492.75 366.61 L493.79 366.67 L494.83 366.73 L495.86 366.79 L496.90 366.85 L497.94 366.91 L498.97 366.97 L500.01 367.03 L501.04 367.08 L502.08 367.14 L503.12 367.20 L504.15 367.25 L505.19 367.31 L506.22 367.36 L507.26 367.42 L508.30 367.47 L509.33 367.52 L510.37 367.57 L511.41 367.63 L512.44 367.68 L513.48 367.73 L514.51 367.78 L515.55 367.83 L516.59 367.88 L517.62 367.93 L518.66 367.97 L519.70 368.02 L520.73 368.07 L521.77 368.12 L522.80 368.16 L523.84 368.21 L524.88 368.25 L525.91 368.30 L526.95 368.34 L527.99 368.39 L529.02 368.43 L530.06 368.47 L531.09 368.52 L532.13 368.56 L533.17 368.60" stroke="#b03cb0" stroke-width="2.4" fill="none" stroke-linejoin="round"/>
<rect x="67" y="7" width="476.5" height="383.6" fill="none" stroke="#000" stroke-width="2"/>
<path d="M87.60 390.6v-8M118.69 390.6v-4.5M149.77 390.6v-8M180.86 390.6v-4.5M211.94 390.6v-8M243.03 390.6v-4.5M274.12 390.6v-8M305.20 390.6v-4.5M336.29 390.6v-8M367.37 390.6v-4.5M398.46 390.6v-8M429.55 390.6v-4.5M460.63 390.6v-8M491.72 390.6v-4.5M522.80 390.6v-8M67 371.50h8M67 352.31h4.5M67 333.12h8M67 313.93h4.5M67 294.74h8M67 275.55h4.5M67 256.36h8M67 237.17h4.5M67 217.98h8M67 198.79h4.5M67 179.60h8M67 160.41h4.5M67 141.22h8M67 122.03h4.5M67 102.84h8M67 83.65h4.5M67 64.46h8M67 45.27h4.5M67 26.08h8" stroke="#000" stroke-width="2" fill="none"/>
<g font-family="Liberation Sans, Arial, Helvetica, sans-serif" font-weight="bold" font-size="20" fill="#000">
<text x="87.60" y="415.7" text-anchor="middle">0</text>
<text x="149.77" y="415.7" text-anchor="middle">30</text>
<text x="211.94" y="415.7" text-anchor="middle">60</text>
<text x="274.12" y="415.7" text-anchor="middle">90</text>
<text x="336.29" y="415.7" text-anchor="middle">120</text>
<text x="398.46" y="415.7" text-anchor="middle">150</text>
<text x="460.63" y="415.7" text-anchor="middle">180</text>
<text x="522.80" y="415.7" text-anchor="middle">210</text>
<text x="58.1" y="377.20" text-anchor="end">0</text>
<text x="58.1" y="338.82" text-anchor="end">2</text>
<text x="58.1" y="300.44" text-anchor="end">4</text>
<text x="58.1" y="262.06" text-anchor="end">6</text>
<text x="58.1" y="223.68" text-anchor="end">8</text>
<text x="58.1" y="185.30" text-anchor="end">10</text>
<text x="58.1" y="146.92" text-anchor="end">12</text>
<text x="58.1" y="108.54" text-anchor="end">14</text>
<text x="58.1" y="70.16" text-anchor="end">16</text>
<text x="58.1" y="31.78" text-anchor="end">18</text>
</g>
<text x="250.50" y="440.7" font-family="Liberation Sans, Arial, Helvetica, sans-serif" font-weight="bold" font-size="21" textLength="109.52" lengthAdjust="spacingAndGlyphs" xml:space="preserve">Time (min)</text>
<text transform="translate(24.8,198.75) rotate(-90)" text-anchor="middle" font-family="Liberation Sans, Arial, Helvetica, sans-serif" font-weight="bold" font-size="21.5" textLength="185" lengthAdjust="spacingAndGlyphs">Water content (%)</text>
<path d="M407.80 34.10h5.4v5.4h-5.4z" fill="#1b9e77"/>
<circle cx="410.4" cy="64.2" r="3.1" fill="#ff5a0a"/>
<path d="M410.50 87.83L413.80 93.63L407.20 93.63z" fill="#6458c0"/>
<text x="427.20" y="43.5" font-family="Liberation Sans, Arial, Helvetica, sans-serif" font-weight="bold" font-size="20" textLength="88.09" lengthAdjust="spacingAndGlyphs" xml:space="preserve">W/S=0.25</text>
<text x="427.20" y="71.1" font-family="Liberation Sans, Arial, Helvetica, sans-serif" font-weight="bold" font-size="20" textLength="75.76" lengthAdjust="spacingAndGlyphs" xml:space="preserve">W/S=0.3</text>
<text x="427.20" y="98.4" font-family="Liberation Sans, Arial, Helvetica, sans-serif" font-weight="bold" font-size="20" textLength="88.09" lengthAdjust="spacingAndGlyphs" xml:space="preserve">W/S=0.35</text>
<text x="141.20" y="40.6" font-family="Liberation Serif, Times New Roman, serif" font-weight="normal" font-size="17.5" textLength="67.08" lengthAdjust="spacingAndGlyphs" xml:space="preserve">y=17.39e</text>
<text x="208.60" y="33.3" font-family="Liberation Serif, Times New Roman, serif" font-weight="normal" font-size="12" textLength="40.14" lengthAdjust="spacingAndGlyphs" xml:space="preserve">-x/48.74</text>
<text x="253.47" y="40.7" font-family="Liberation Serif, Times New Roman, serif" font-weight="normal" font-size="17.5" textLength="41.87" lengthAdjust="spacingAndGlyphs" xml:space="preserve">- 0.06</text>
<text x="140.12" y="65.5" font-family="Liberation Serif, Times New Roman, serif" font-weight="normal" font-size="17.5" textLength="12.62" lengthAdjust="spacingAndGlyphs" xml:space="preserve">R</text>
<text x="152.80" y="57.9" font-family="Liberation Serif, Times New Roman, serif" font-weight="normal" font-size="12" textLength="6.00" lengthAdjust="spacingAndGlyphs" xml:space="preserve">2</text>
<text x="157.87" y="65.5" font-family="Liberation Serif, Times New Roman, serif" font-weight="normal" font-size="17.5" textLength="41.75" lengthAdjust="spacingAndGlyphs" xml:space="preserve">=0.99</text>
<text x="265.70" y="204.2" font-family="Liberation Serif, Times New Roman, serif" font-weight="normal" font-size="17.5" textLength="67.89" lengthAdjust="spacingAndGlyphs" xml:space="preserve">y=12.66e</text>
<text x="333.60" y="196.4" font-family="Liberation Serif, Times New Roman, serif" font-weight="normal" font-size="12" textLength="39.74" lengthAdjust="spacingAndGlyphs" xml:space="preserve">-x/45.08</text>
<text x="377.18" y="204.4" font-family="Liberation Serif, Times New Roman, serif" font-weight="normal" font-size="17.5" textLength="45.62" lengthAdjust="spacingAndGlyphs" xml:space="preserve">+ 2.71</text>
<text x="264.49" y="228.9" font-family="Liberation Serif, Times New Roman, serif" font-weight="normal" font-size="17.5" textLength="12.97" lengthAdjust="spacingAndGlyphs" xml:space="preserve">R</text>
<text x="277.50" y="221.6" font-family="Liberation Serif, Times New Roman, serif" font-weight="normal" font-size="12" textLength="5.64" lengthAdjust="spacingAndGlyphs" xml:space="preserve">2</text>
<text x="282.27" y="228.9" font-family="Liberation Serif, Times New Roman, serif" font-weight="normal" font-size="17.5" textLength="41.85" lengthAdjust="spacingAndGlyphs" xml:space="preserve">=0.99</text>
<text x="96.20" y="330.4" font-family="Liberation Serif, Times New Roman, serif" font-weight="normal" font-size="17.5" textLength="58.85" lengthAdjust="spacingAndGlyphs" xml:space="preserve">y=6.74e</text>
<text x="154.20" y="322.4" font-family="Liberation Serif, Times New Roman, serif" font-weight="normal" font-size="12" textLength="40.14" lengthAdjust="spacingAndGlyphs" xml:space="preserve">-x/46.88</text>
<text x="198.03" y="330.4" font-family="Liberation Serif, Times New Roman, serif" font-weight="normal" font-size="17.5" textLength="47.80" lengthAdjust="spacingAndGlyphs" xml:space="preserve">+ 2.90</text>
<text x="95.28" y="354.6" font-family="Liberation Serif, Times New Roman, serif" font-weight="normal" font-size="17.5" textLength="11.92" lengthAdjust="spacingAndGlyphs" xml:space="preserve">R</text>
<text x="108.00" y="347.3" font-family="Liberation Serif, Times New Roman, serif" font-weight="normal" font-size="12" textLength="5.88" lengthAdjust="spacingAndGlyphs" xml:space="preserve">2</text>
<text x="112.27" y="354.6" font-family="Liberation Serif, Times New Roman, serif" font-weight="normal" font-size="17.5" textLength="41.85" lengthAdjust="spacingAndGlyphs" xml:space="preserve">=0.99</text>
<path d="M91.00 47.70L124.21 46.20" stroke="#000" stroke-width="2"/><path d="M135.20 45.70L122.37 49.78L122.06 42.79z" fill="#000"/>
<path d="M242.70 272.70L257.90 247.61" stroke="#000" stroke-width="2"/><path d="M263.60 238.20L259.86 251.13L253.87 247.51z" fill="#000"/>
<path d="M169.30 261.50L159.45 296.90" stroke="#000" stroke-width="2"/><path d="M156.50 307.50L156.61 294.04L163.36 295.91z" fill="#000"/>
</svg></body></html>
